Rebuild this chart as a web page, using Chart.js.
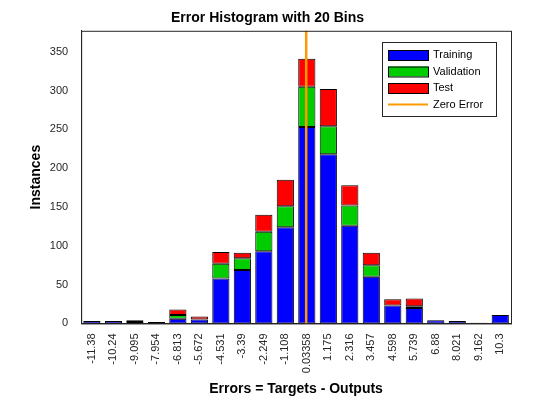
<!DOCTYPE html>
<html><head><meta charset="utf-8">
<script src="https://cdn.jsdelivr.net/npm/chart.js@4/dist/chart.umd.min.js"></script>
<style>body{margin:0;background:#fff}#w{width:560px;height:420px}</style></head>
<body><div id="w"><canvas id="c" width="560" height="420"></canvas></div>
<script>
const binLabels=["-11.38","-10.24","-9.095","-7.954","-6.813","-5.672","-4.531","-3.39","-2.249","-1.108","0.03358","1.175","2.316","3.457","4.598","5.739","6.88","8.021","9.162","10.3"];
const binCenters=[-11.38,-10.24,-9.095,-7.954,-6.813,-5.672,-4.531,-3.39,-2.249,-1.108,0.03358,1.175,2.316,3.457,4.598,5.739,6.88,8.021,9.162,10.3];
const training=[3,3,2,2,6,5,58,69,93,124,253,218,126,60,23,20,4,3,1,11];
const validation=[0,0,0,0,5,0,19,15,25,27,52,36,26,15,0,2,0,0,0,0];
const test=[0,0,2,0,7,4,15,7,22,34,36,48,26,16,8,10,0,0,0,0];
const zeroError=0;
const seriesNames=["Training","Validation","Test","Zero Error"];
const F="'Liberation Sans', Arial, sans-serif";
const zeroPlugin={id:'z',afterDatasetsDraw(ch){
 const x=ch.scales.x,y=ch.scales.y,ctx=ch.ctx;
 let i=0;while(i<binCenters.length-2&&binCenters[i+1]<zeroError)i++;
 const f=(zeroError-binCenters[i])/(binCenters[i+1]-binCenters[i]);
 const p1=x.getPixelForValue(i),p2=x.getPixelForValue(i+1);
 const px=p1+f*(p2-p1);
 ctx.save();ctx.strokeStyle='#ff9900';ctx.lineWidth=2.5;
 ctx.beginPath();ctx.moveTo(px,y.top);ctx.lineTo(px,y.bottom);ctx.stroke();
 ctx.strokeStyle='#262626';ctx.lineWidth=1;
 ctx.strokeRect(x.left+0.5,y.top+0.5,x.right-x.left,y.bottom-y.top);
 const lx=382,ly=42,w=114,h=74;
 ctx.fillStyle='#fff';ctx.fillRect(lx,ly,w,h);ctx.strokeStyle='#262626';ctx.strokeRect(lx+0.5,ly+0.5,w,h);
 const cols=['#0000ff','#00cc00','#ff0000'];
 ctx.font='11px '+F;ctx.textBaseline='middle';
 for(let k=0;k<4;k++){const cy=ly+13+k*16.5;
  if(k<3){ctx.fillStyle=cols[k];ctx.fillRect(lx+6,cy-5,40,10);ctx.strokeStyle='#000';ctx.strokeRect(lx+6.5,cy-4.5,40,10);}
  else{ctx.strokeStyle='#ff9900';ctx.lineWidth=2;ctx.beginPath();ctx.moveTo(lx+6,cy);ctx.lineTo(lx+46,cy);ctx.stroke();ctx.lineWidth=1;}
  ctx.fillStyle='#000';ctx.fillText(seriesNames[k],lx+51,cy);}
 ctx.restore();}};
const ds=(l,d,c)=>({label:l,data:d.map(v=>v===0?null:v),backgroundColor:c,borderColor:'#000',borderWidth:1,borderSkipped:false,categoryPercentage:0.8,barPercentage:1});
new Chart(document.getElementById('c'),{type:'bar',
 data:{labels:binLabels,datasets:[ds(seriesNames[0],training,'#0000ff'),ds(seriesNames[1],validation,'#00cc00'),ds(seriesNames[2],test,'#ff0000')]},
 options:{responsive:false,animation:false,devicePixelRatio:1,
  layout:{padding:{left:24,right:49,top:2,bottom:0}},
  plugins:{legend:{display:false},tooltip:{enabled:false},
   title:{display:true,text:'Error Histogram with 20 Bins',color:'#000',font:{family:F,size:14,weight:'bold'},padding:{top:8,bottom:4}}},
  scales:{
   x:{stacked:true,grid:{display:false},border:{color:'#262626'},
    ticks:{color:'#262626',font:{family:F,size:11},minRotation:90,maxRotation:90,autoSkip:false,padding:2},
    title:{display:true,text:'Errors = Targets - Outputs',color:'#000',font:{family:F,size:14,weight:'bold'},padding:{top:6,bottom:22}}},
   y:{stacked:true,min:0,max:377,grid:{display:false},border:{color:'#262626'},
    afterBuildTicks(s){s.ticks=[0,50,100,150,200,250,300,350].map(v=>({value:v}));},
    ticks:{color:'#262626',font:{family:F,size:11},padding:5},
    title:{display:true,text:'Instances',color:'#000',font:{family:F,size:14,weight:'bold'},padding:{bottom:0}}}}},
 plugins:[zeroPlugin]});
</script></body></html>
